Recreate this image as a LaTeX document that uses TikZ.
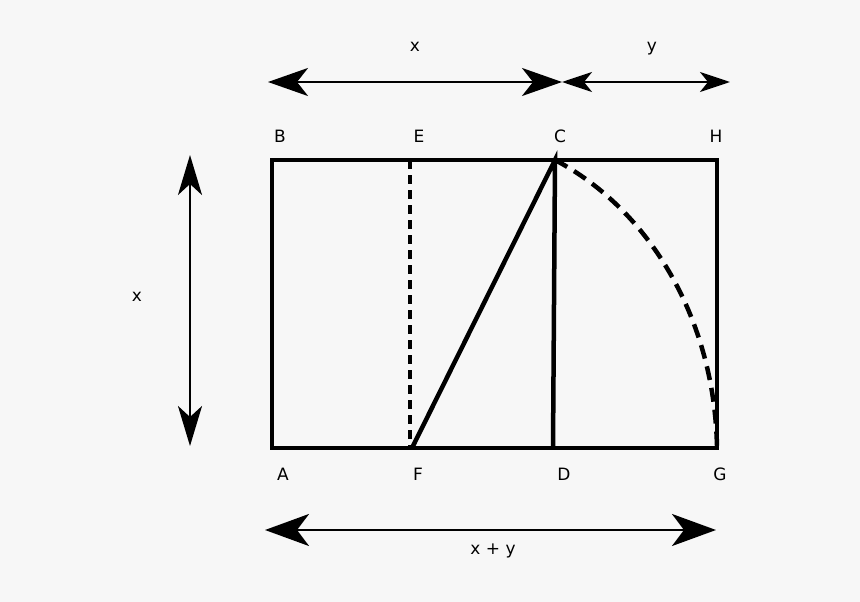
\documentclass[tikz,border=0pt]{standalone}
\usepackage{fontspec}
\setmainfont{DejaVu Sans}
\usetikzlibrary{arrows.meta}
\definecolor{bg}{HTML}{F7F7F7}
\begin{document}
\begin{tikzpicture}[x=1pt,y=-1pt,
  lab/.style={font=\fontsize{17}{20}\selectfont},
  thick line/.style={line width=4.5pt},
  dim/.style={line width=2.5pt,{Stealth[length=44pt,width=32pt,inset=12pt]}-{Stealth[length=44pt,width=32pt,inset=12pt]}},
  dimsmall/.style={line width=2.5pt,{Stealth[length=30pt,width=20pt,inset=8pt]}-{Stealth[length=30pt,width=20pt,inset=8pt]}}]
\fill[bg] (0,0) rectangle (860,602);
\useasboundingbox (0,0) rectangle (860,602);
\coordinate (A) at (272,448); \coordinate (B) at (272,160);
\coordinate (E) at (410,160); \coordinate (Eb) at (410,448);
\coordinate (C) at (555,160); \coordinate (D) at (553,448);
\coordinate (F) at (412,448); \coordinate (G) at (717,448); \coordinate (H) at (717,160);
\draw[thick line] (A) rectangle (H);
\draw[thick line,dash pattern=on 9pt off 6pt] (E) -- (Eb);
\draw[thick line] (F) -- (C) -- (D);
\draw[thick line,dash pattern=on 14pt off 8pt] (C) .. controls (650,210) and (715,320) .. (G);
\node[lab] (lB) at (280,136) {B}; \node[lab] (lE) at (419,136) {E};
\node[lab] (lC) at (560,136) {C}; \node[lab] (lH) at (716,136) {H};
\node[lab] (lA) at (283,474) {A}; \node[lab] (lF) at (418,474) {F};
\node[lab] (lD) at (564,474) {D}; \node[lab] (lG) at (720,474) {G};
\coordinate (t1) at (268,82); \coordinate (t2) at (562,82); \coordinate (t3) at (730,82);
\draw[line width=2.5pt,{Stealth[length=40pt,width=28pt,inset=11pt]}-{Stealth[length=40pt,width=28pt,inset=11pt]}] (t1) -- (t2);
\draw[dimsmall] (t2) -- (t3);
\node[lab] (lx1) at (415,47) {x}; \node[lab] (ly) at (652,49) {y};
\coordinate (v1) at (190,155); \coordinate (v2) at (190,446);
\draw[line width=2.5pt,{Stealth[length=40pt,width=24pt,inset=11pt]}-{Stealth[length=40pt,width=24pt,inset=11pt]}] (v1) -- (v2);
\node[lab] (lx2) at (137,297) {x};
\coordinate (b1) at (265,530); \coordinate (b2) at (716,530);
\draw[dim] (b1) -- (b2);
\node[lab] (lxy) at (493,551) {x + y};
\end{tikzpicture}
\end{document}
